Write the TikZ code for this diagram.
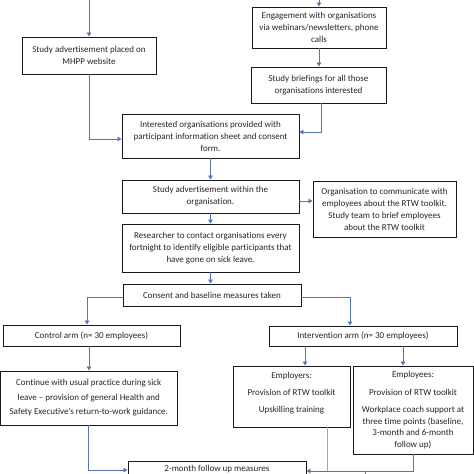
\documentclass[tikz,border=0pt]{standalone}
\usepackage{fontspec}
\setmainfont{Carlito}[Ligatures={NoCommon}]
\usetikzlibrary{arrows.meta,calc}
\definecolor{arrowblue}{HTML}{4F75B5}
\definecolor{greyline}{HTML}{A6A6A6}
\tikzset{
 box/.style={draw=black!90, line width=0.95pt, align=center, inner sep=1pt, font=\fontsize{9}{12}\selectfont, text=black!85},
 arr/.style={draw=arrowblue, line width=0.9pt, -{Triangle[width=4.5pt,length=4pt]}},
 ln/.style={draw=arrowblue, line width=0.9pt},
 gln/.style={draw=greyline, line width=0.9pt},
}
\begin{document}
\begin{tikzpicture}[x=1pt,y=-1pt]
\useasboundingbox (0,0) rectangle (474,474);
\clip (0,0) rectangle (474,474);
\fill[white] (0,0) rectangle (474,474);

\node[box, minimum width=134pt, minimum height=37pt] (A) at (89,55.5) {Study advertisement placed on\\MHPP website};
\node[box, minimum width=134pt, minimum height=41pt] (B) at (319,27.5) {Engagement with organisations\\via webinars/newsletters, phone\\calls};
\node[box, minimum width=135pt, minimum height=36pt] (C) at (318.5,85) {Study briefings for all those\\organisations interested};
\node[box, minimum width=177pt, minimum height=44pt] (D) at (210.5,136) {Interested organisations provided with\\participant information sheet and consent\\form.};
\node[box, minimum width=177pt, minimum height=33pt] (E) at (210.5,196.5) {Study advertisement within the\\organisation.};
\node[box, minimum width=143pt, minimum height=56pt] (F) at (384.5,209) {Organisation to communicate with\\employees about the RTW toolkit.\\Study team to brief employees\\about the RTW toolkit};
\node[box, minimum width=177pt, minimum height=48pt] (G) at (210.5,248) {Researcher to contact organisations every\\fortnight to identify eligible participants that\\have gone on sick leave.};
\node[box, minimum width=178pt, minimum height=22pt] (H) at (212,295) {Consent and baseline measures taken};
\node[box, minimum width=177pt, minimum height=21pt] (Ctrl) at (91.5,335.5) {Control arm (n= 30 employees)};
\node[box, minimum width=176.5pt, minimum height=54pt, font=\fontsize{9}{14.5}\selectfont] (Cont) at (88.75,398) {Continue with usual practice during sick\\leave -- provision of general Health and\\Safety Executive’s return-to-work guidance.};
\node[box, minimum width=188pt, minimum height=20pt] (Int) at (363,336) {Intervention arm (n= 30 employees)};
\node[box, minimum width=117pt, minimum height=61pt] (Emp1) at (291.5,396.5) {Employers:\\[5pt]Provision of RTW toolkit\\[5pt]Upskilling training\\[-3pt]\mbox{}};
\node[box, minimum width=120pt, minimum height=88pt, font=\fontsize{9}{11.5}\selectfont] (Emp2) at (413,410) {Employees:\\[6.5pt]Provision of RTW toolkit\\[6pt]Workplace coach support at\\three time points (baseline,\\3-month and 6-month\\follow up)};
\node[box, minimum width=178pt, minimum height=16pt] (Fol) at (217,469) {2-month follow up measures};

% incoming lines from above
\coordinate (a0) at (89,-2);
\coordinate (b0) at (319,-2);
\draw[arr] (a0) -- (a0 |- A.north);
\draw[arr] (b0) -- (b0 |- B.north);
\draw[arr] (B.south) -- (B.south |- C.north);
\coordinate (a1) at ([yshift=-3pt]D.west);
\draw[arr] (A.south) |- (a1);
\coordinate (c1) at ([xshift=2.5pt]C.south);
\coordinate (d1) at ([yshift=4pt]D.east);
\draw[arr] (c1) |- (d1);
\draw[arr] (D.south) -- (D.south |- E.north);
\coordinate (e1) at ([yshift=-4.5pt]E.east);
\draw[arr] (e1) -- (e1 -| F.west);
\draw[arr] (E.south) -- (E.south |- G.north);
\draw[arr] (G.south) -- (G.south |- H.north);
\coordinate (h1) at ([xshift=-4.5pt]Ctrl.north);
\draw[arr] ([yshift=-2pt]H.west) -| (h1);
\coordinate (h2) at ([xshift=-13pt]Int.north);
\draw[arr] ([yshift=-2pt]H.east) -| (h2);
\coordinate (c2) at ([xshift=-2.5pt]Ctrl.south);
\draw[arr] (c2) -- (c2 |- Cont.north);
\coordinate (i1) at ([xshift=-58pt]Int.south);
\coordinate (i2) at ([xshift=40pt]Int.south);
\draw[arr] (i1) -- (i1 |- Emp1.north);
\draw[arr] (i2) -- (i2 |- Emp2.north);
\coordinate (f1) at ([yshift=-1pt]Fol.west);
\draw[arr] (Cont.south) |- (f1);
\coordinate (f2) at ([yshift=-2pt]Fol.east);
\draw[arr] (Emp2.south) |- (f2);
\coordinate (g1) at ([xshift=35.5pt]Emp1.south);
\draw[gln] (g1) -- (g1 |- f2);
\coordinate (k1) at (365,471);
\coordinate (k2) at (365,480);
\draw[ln] (k1) -- (k2);
\end{tikzpicture}
\end{document}
